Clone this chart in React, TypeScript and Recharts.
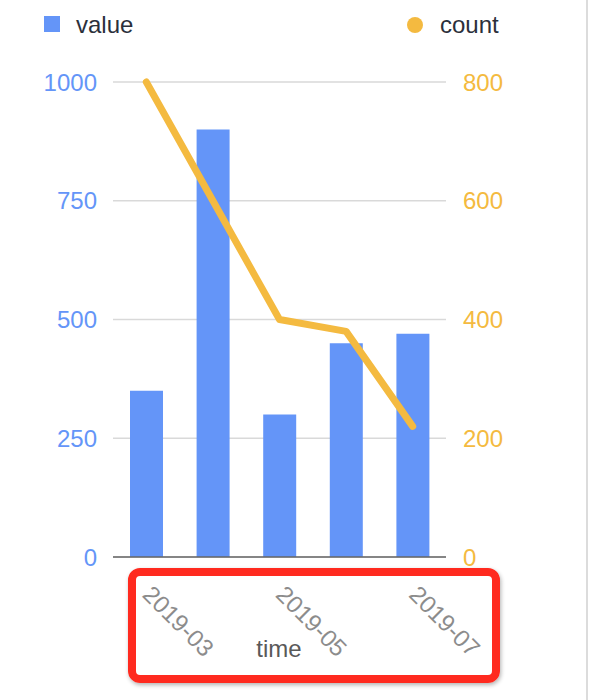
import React from 'react';
import { ComposedChart, Bar, Line, XAxis, YAxis, CartesianGrid } from 'recharts';

const months = ['2019-03', '2019-04', '2019-05', '2019-06', '2019-07'];
const valueSeries = [350, 900, 300, 450, 470];
const countSeries = [800, 600, 400, 380, 220];
const valueTicks = [0, 250, 500, 750, 1000];
const countTicks = [0, 200, 400, 600, 800];

const BLUE = '#6495F8';
const YELLOW = '#F4BA40';
const FONT = '"Liberation Sans", Arial, Helvetica, sans-serif';

const data = months.map((time, i) => ({ time, value: valueSeries[i], count: countSeries[i] }));

const TimeTick = (props: any) => {
  const { x, y, payload } = props;
  return (
    <g transform={`translate(${x - 5},${y + 37})`}>
      <text transform="rotate(45)" textAnchor="start" fill="#8c8c8c" fontSize={24} fontFamily={FONT}>
        {payload.value}
      </text>
    </g>
  );
};

export default function App() {
  return (
    <div style={{ position: 'absolute', left: 0, top: 0, width: 592, height: 700, background: '#fff', fontFamily: FONT }}>
      {/* legend */}
      <div style={{ position: 'absolute', left: 44, top: 16, width: 16, height: 16, background: BLUE }} />
      <div style={{ position: 'absolute', left: 76, top: 10, fontSize: 24, lineHeight: '30px', color: '#2b303b' }}>value</div>
      <div style={{ position: 'absolute', left: 407, top: 17, width: 16, height: 16, borderRadius: 8, background: YELLOW }} />
      <div style={{ position: 'absolute', left: 440, top: 10, fontSize: 24, lineHeight: '30px', color: '#2b303b' }}>count</div>

      <ComposedChart width={592} height={700} data={data} margin={{ top: 82, right: 0, bottom: 0, left: 0 }}>
        <CartesianGrid yAxisId="left" vertical={false} stroke="#d9d9d9" strokeWidth={1.5} />
        <XAxis
          dataKey="time"
          interval={1}
          height={143}
          tickLine={false}
          tickSize={0}
          axisLine={{ stroke: '#666', strokeWidth: 1.5 }}
          tick={<TimeTick />}
        />
        <YAxis
          yAxisId="left"
          orientation="left"
          width={113}
          domain={[0, 1000]}
          ticks={valueTicks}
          axisLine={false}
          tickLine={false}
          tickSize={0}
          tickMargin={16}
          tick={{ fill: BLUE, fontSize: 24, fontFamily: FONT }}
        />
        <YAxis
          yAxisId="right"
          orientation="right"
          width={146}
          domain={[0, 800]}
          ticks={countTicks}
          axisLine={false}
          tickLine={false}
          tickSize={0}
          tickMargin={17}
          tick={{ fill: YELLOW, fontSize: 24, fontFamily: FONT }}
        />
        <Bar yAxisId="left" dataKey="value" fill={BLUE} barSize={33} isAnimationActive={false} />
        <Line
          yAxisId="right"
          dataKey="count"
          type="linear"
          stroke={YELLOW}
          strokeWidth={7}
          strokeLinecap="round"
          strokeLinejoin="round"
          dot={false}
          activeDot={false}
          isAnimationActive={false}
        />
      </ComposedChart>

      <div style={{ position: 'absolute', left: 279, top: 634, transform: 'translateX(-50%)', fontSize: 24, lineHeight: '30px', color: '#595959' }}>time</div>

      {/* highlight box */}
      <div
        style={{
          position: 'absolute',
          left: 128,
          top: 568,
          width: 372,
          height: 115,
          boxSizing: 'border-box',
          border: '8px solid #ff2a1f',
          borderRadius: 12,
          boxShadow: '1px 2px 4px rgba(0,0,0,0.3)',
        }}
      />
      <div style={{ position: 'absolute', left: 586, top: 0, width: 2, height: 700, background: '#dcdcdc' }} />
    </div>
  );
}
